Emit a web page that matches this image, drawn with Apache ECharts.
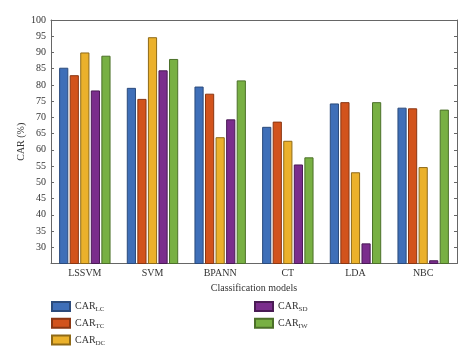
<!DOCTYPE html>
<html><head><meta charset="utf-8">
<script src="https://cdn.jsdelivr.net/npm/echarts@6/dist/echarts.min.js"></script>
<style>html,body{margin:0;padding:0;background:#fff}#c{width:474px;height:363px}</style>
</head><body><div id="c"></div>
<script>
const categories = ['LSSVM', 'SVM', 'BPANN', 'CT', 'LDA', 'NBC'];
const seriesNames = ['LC', 'TC', 'DC', 'SD', 'IW'];
const carLC = [85.3, 79.1, 79.5, 67.1, 74.3, 73.0];
const carTC = [83.0, 75.7, 77.3, 68.7, 74.7, 72.8];
const carDC = [90.0, 94.7, 63.9, 62.8, 53.1, 54.7];
const carSD = [78.3, 84.5, 69.4, 55.5, 31.2, 26.0];
const carIW = [89.0, 88.0, 81.4, 57.7, 74.7, 72.4];
const yTicks = [30, 35, 40, 45, 50, 55, 60, 65, 70, 75, 80, 85, 90, 95, 100];

const values = [carLC, carTC, carDC, carSD, carIW];
const colors = ['#3f6fb8', '#d2531c', '#ebb12b', '#7a2d8c', '#78b043'];
const borders = ['#2b4b7c', '#8a3612', '#8f6a17', '#4a1b55', '#4c7029'];
const font = 'Liberation Serif';

const chart = echarts.init(document.getElementById('c'), null, {renderer: 'canvas'});
const legendCommon = {
  orient: 'vertical', itemWidth: 18, itemHeight: 9, itemGap: 4.7, padding: 0,
  icon: 'rect',
  formatter: n => '{a|CAR}{b|' + n + '}',
  textStyle: {
    fontFamily: font, color: '#333',
    rich: {
      a: {fontFamily: font, fontSize: 10, color: '#333', lineHeight: 13, verticalAlign: 'middle'},
      b: {fontFamily: font, fontSize: 7, color: '#333', lineHeight: 9, verticalAlign: 'bottom', padding: [4, 0, 0, 0]}
    }
  },
  selectedMode: false
};
chart.setOption({
  animation: false,
  backgroundColor: '#fff',
  grid: {left: 51, right: 17, top: 20, bottom: 99.5},
  legend: [
    Object.assign({left: 51, top: 301, data: seriesNames.slice(0, 3)}, legendCommon),
    Object.assign({left: 254, top: 301, data: seriesNames.slice(3)}, legendCommon)
  ],
  xAxis: [{
    type: 'category', data: categories, position: 'bottom',
    name: 'Classification models', nameLocation: 'middle', nameGap: 19,
    nameTextStyle: {fontFamily: font, fontSize: 10, color: '#333'},
    axisLine: {lineStyle: {color: '#666', width: 1}},
    axisTick: {inside: true, alignWithLabel: true, length: 3, lineStyle: {color: '#666'}},
    axisLabel: {fontFamily: font, fontSize: 10, color: '#333', margin: 5}
  }, {
    type: 'category', data: categories, position: 'top',
    axisLine: {lineStyle: {color: '#666', width: 1}},
    axisTick: {inside: true, alignWithLabel: true, length: 3, lineStyle: {color: '#666'}},
    axisLabel: {show: false}
  }],
  yAxis: [{
    type: 'value', min: 25, max: 100, interval: 5, position: 'left',
    name: 'CAR (%)', nameLocation: 'middle', nameGap: 25, nameMoveOverlap: false,
    nameTextStyle: {fontFamily: font, fontSize: 10, color: '#333'},
    axisLine: {show: true, lineStyle: {color: '#666', width: 1}},
    axisTick: {show: true, inside: true, length: 3, lineStyle: {color: '#666'}},
    splitLine: {show: false},
    axisLabel: {fontFamily: font, fontSize: 10, color: '#333', margin: 5,
      formatter: v => yTicks.indexOf(v) >= 0 ? String(v) : ''}
  }, {
    type: 'value', min: 25, max: 100, interval: 5, position: 'right',
    axisLine: {show: true, lineStyle: {color: '#666', width: 1}},
    axisTick: {show: true, inside: true, length: 3, lineStyle: {color: '#666'}},
    splitLine: {show: false},
    axisLabel: {show: false}
  }],
  series: seriesNames.map((n, i) => ({
    name: n, type: 'bar', xAxisIndex: 0, yAxisIndex: 0,
    data: values[i],
    barGap: '15%', barCategoryGap: '24%',
    itemStyle: {color: colors[i], borderColor: borders[i], borderWidth: 1}
  }))
});
</script></body></html>
